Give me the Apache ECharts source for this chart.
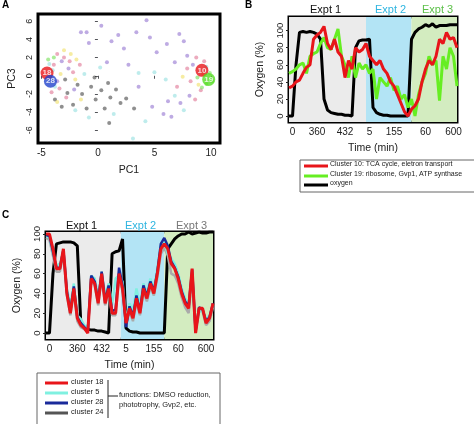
<!DOCTYPE html>
<html>
<head>
<meta charset="utf-8">
<script src="https://cdn.jsdelivr.net/npm/echarts@6/dist/echarts.min.js"></script>
<style>
  html, body { margin: 0; padding: 0; background: #fff; }
  #main { width: 474px; height: 424px; }
</style>
</head>
<body>
<div id="main"></div>
<script>
// ---- panel A: PCA scatter ----
var pcaPurple = [[-1.5,4.8],[-1,4.8],[0.3,5.5],[1.8,4.5],[3.4,4.8],[4.3,6.1],[4.6,4.2],[6.1,3.5],[7.2,4.6],[7.6,3.8],[2.3,3.0],[1.2,3.8],[-0.8,3.6],[5.2,2.6],[6.8,1.5],[7.9,2.2],[8.4,1.2],[6.2,-2.8],[5.8,-4.2],[6.5,-4.5],[7.3,-3.0],[8.1,-2.2],[4.8,-3.4],[3.6,-1.2],[-3.2,1.6],[-2.6,0.8],[-3.6,-0.6],[-2.1,-1.5],[0.8,1.5],[2.7,1.2]];
var pcaDark = [[-3.8,-2.6],[-3.2,-3.4],[-2.7,-1.9],[-2.2,-3.2],[-1.4,-2.0],[-1.0,-3.6],[-0.6,-1.2],[-0.2,-2.6],[0.3,-1.6],[0.6,-3.6],[1.1,-2.4],[1.6,-1.5],[2.0,-3.0],[2.5,-2.5],[1.0,-5.2],[3.2,-3.6],[-1.8,-1.0],[-2.9,-0.4],[0.9,-0.8],[-0.3,-0.2]];
var pcaPink = [[-3.6,2.4],[-3.0,2.0],[-2.5,1.6],[-3.9,1.2],[-2.2,0.4],[-3.4,-1.4],[-2.8,-2.4],[-1.6,1.2],[8.7,2.0],[9.4,1.6],[8.2,-0.6],[7.9,0.8],[9.1,-1.6],[8.6,-2.6],[7.0,-1.2],[-4.1,-1.8]];
var pcaCyan = [[-4.3,1.3],[-4.0,0.6],[-3.8,-1.2],[-0.8,-4.6],[1.4,-4.2],[3.1,-6.9],[3.6,0.3],[5.0,0.4],[6.0,-0.4],[6.8,-2.2],[4.2,-5.0],[7.6,-3.8],[-1.2,0.2],[0.2,0.9],[-2.0,-3.8],[9.6,1.0]];
var pcaYellow = [[-3.0,2.8],[-2.4,2.4],[-1.9,1.8],[-3.3,0.2],[-2.0,-0.4],[-1.5,-2.6],[8.9,-1.0],[9.3,0.2],[7.5,-0.1],[-3.6,-2.9]];
var pcaGreen = [[9.6,-0.9],[9.9,0.3],[9.2,-1.3],[8.8,-0.2],[10.1,-0.6],[-4.4,1.8],[-3.9,2.0]];
var pcaClusters = [[-4.5, 0.3, '18', '#e8151a'], [-4.2, -0.6, '28', '#2244cc'], [9.2, 0.6, '10', '#e8151a'], [9.8, -0.4, '19', '#55dd22']];
var pcaXTicks = [-5, 0, 5, 10];
var pcaYTicks = [-6, -4, -2, 0, 2, 4, 6];

// ---- time axes (sample index) ----
var tickIdxB = [1, 8, 16, 23, 30, 39, 47];
var tickIdxC = [1, 9, 16, 23, 31, 38, 46];
var tickText = ['0', '360', '432', '5', '155', '60', '600'];
var oxyTicks = [0, 20, 40, 60, 80, 100];
var exptB = [22, 35];   // boundaries Expt1|Expt2|Expt3
var exptC = [21.5, 34];

// ---- panel B: cluster 10 / 19 vs oxygen ----
var oxygenB = [0,0,60,98,99,98,99,98,96,90,20,7,4,3,2,2,1,1,0,80,88,89,89,90,10,4,2,1,1,0,0,0,0,0,0,90,98,102,104,107,105,108,104,106,106,106,107,107,107];
var cluster10 = [33,35,40,42,50,57,60,90,95,98,105,85,78,90,75,70,45,65,55,80,75,78,85,70,65,60,65,55,50,40,35,25,15,5,0,8,12,20,40,55,65,60,70,90,85,98,90,92,80];
var cluster19 = [50,52,55,60,62,50,70,73,75,85,92,80,78,90,102,70,60,45,70,45,62,55,60,50,55,20,45,40,35,45,30,35,20,25,10,20,0,25,40,50,70,60,65,18,70,55,80,70,35];

// ---- panel C: cluster 18/5/28/24 vs oxygen ----
var oxygenC = [0,0,60,90,91,92,92,92,91,88,10,5,4,3,3,2,2,1,0,80,82,83,95,5,2,1,1,0,0,0,0,0,0,0,0,85,90,95,98,100,100,102,100,101,102,101,101,102,102];
var cluster18 = [100,100,85,65,65,85,40,20,45,15,8,5,0,55,50,30,60,30,45,20,20,60,45,10,25,15,35,20,45,35,50,40,60,85,90,85,70,65,55,40,30,25,65,0,25,25,10,15,30];
var cluster5 = [98,97,80,68,70,82,45,28,50,18,14,8,5,58,55,38,62,38,50,28,55,58,52,12,30,22,45,28,50,40,55,45,65,88,92,80,75,70,60,45,35,30,60,5,22,22,14,18,28];
var cluster28 = [99,98,82,66,66,84,42,22,47,16,10,6,2,58,52,32,62,32,48,22,24,66,48,6,27,17,38,22,48,37,52,42,62,90,96,88,72,66,57,42,32,27,64,2,26,24,12,16,30];
var cluster24 = [96,94,78,62,62,80,38,18,42,12,6,4,2,52,48,28,56,28,42,18,18,55,42,8,22,12,32,18,42,32,46,38,56,80,86,78,60,58,50,36,26,20,58,2,22,22,8,12,26];

var FONT = 'Liberation Sans';
var LAST = oxygenB.length - 1;
var chart = echarts.init(document.getElementById('main'));

function indexed(arr) {
  return arr.map(function (v, i) { return [i, v]; });
}
function timeAxis(gi, ticks) {
  return {
    type: 'value', gridIndex: gi, min: 0, max: LAST,
    name: 'Time (min)', nameLocation: 'middle', nameGap: 21,
    nameTextStyle: { fontSize: 10.5, color: '#222', fontFamily: FONT },
    axisLine: { show: false },
    axisTick: { customValues: ticks, length: 3, lineStyle: { color: '#222' } },
    axisLabel: { customValues: ticks, fontSize: 10, color: '#222', margin: 5, fontFamily: FONT,
      formatter: function (v) { return tickText[ticks.indexOf(v)]; } },
    splitLine: { show: false }
  };
}
function oxyAxis(gi, mn, mx) {
  return {
    type: 'value', gridIndex: gi, min: mn, max: mx,
    name: 'Oxygen (%)', nameLocation: 'middle', nameGap: 23,
    nameTextStyle: { fontSize: 10.5, color: '#222', fontFamily: FONT },
    axisLine: { show: false },
    axisTick: { customValues: oxyTicks, length: 3, lineStyle: { color: '#222' } },
    axisLabel: { customValues: oxyTicks, rotate: 90, fontSize: 9.5, color: '#222', margin: 4, fontFamily: FONT },
    splitLine: { show: false }
  };
}
function shade(b) {
  return {
    silent: true,
    data: [
      [{ xAxis: 0, itemStyle: { color: '#ebebeb' } }, { xAxis: b[0] }],
      [{ xAxis: b[0], itemStyle: { color: '#b3e4f5' } }, { xAxis: b[1] }],
      [{ xAxis: b[1], itemStyle: { color: '#d3ecc0' } }, { xAxis: LAST }]
    ]
  };
}
function lineSeries(gi, data, color, w, extra) {
  var s = { type: 'line', xAxisIndex: gi, yAxisIndex: gi, data: indexed(data), symbol: 'none',
    lineStyle: { color: color, width: w }, z: 3 };
  if (extra) s.markArea = extra;
  return s;
}
function scat(data, color) {
  return { type: 'scatter', xAxisIndex: 0, yAxisIndex: 0, data: data, symbolSize: 4,
    itemStyle: { color: color, opacity: 0.55 }, silent: true };
}

chart.setOption({
  animation: false,
  textStyle: { fontFamily: FONT },
  grid: [
    { left: 38, top: 14, width: 182, height: 129, show: true, borderColor: '#000', borderWidth: 3 },
    { left: 289, top: 17, width: 168, height: 105, show: true, borderColor: '#000', borderWidth: 3 },
    { left: 46, top: 232, width: 167, height: 107, show: true, borderColor: '#000', borderWidth: 3 }
  ],
  xAxis: [
    { type: 'value', gridIndex: 0, min: -5.3, max: 10.8,
      name: 'PC1', nameLocation: 'middle', nameGap: 22,
      nameTextStyle: { fontSize: 10.5, color: '#222' },
      axisLine: { show: false },
      axisLabel: { fontSize: 10, color: '#222', margin: 5, customValues: pcaXTicks },
      axisTick: { customValues: pcaXTicks, length: 3 },
      splitLine: { show: false } },
    timeAxis(1, tickIdxB),
    timeAxis(2, tickIdxC)
  ],
  yAxis: [
    { type: 'value', gridIndex: 0, min: -7.4, max: 6.8,
      name: 'PC3', nameLocation: 'middle', nameGap: 20,
      nameTextStyle: { fontSize: 10.5, color: '#222' },
      axisLine: { show: false },
      axisTick: { customValues: pcaYTicks, length: 3 },
      axisLabel: { rotate: 90, fontSize: 9, color: '#222', margin: 4, customValues: pcaYTicks },
      splitLine: { show: false } },
    oxyAxis(1, -7, 116),
    oxyAxis(2, -6, 102)
  ],
  series: [
    scat(pcaPurple, '#8866cc'),
    scat(pcaDark, '#333333'),
    scat(pcaPink, '#dd6688'),
    scat(pcaCyan, '#88dddd'),
    scat(pcaYellow, '#eedd55'),
    scat(pcaGreen, '#66dd44'),
    { type: 'scatter', xAxisIndex: 0, yAxisIndex: 0, symbolSize: 13, z: 5,
      data: pcaClusters.map(function (d) { return { value: [d[0], d[1]], name: d[2], itemStyle: { color: d[3] } }; }),
      label: { show: true, formatter: '{b}', color: '#fff', fontSize: 8, fontWeight: 'bold' } },
    lineSeries(1, oxygenB, '#000', 3, shade(exptB)),
    lineSeries(1, cluster19, '#66ee22', 3),
    lineSeries(1, cluster10, '#e8151a', 3),
    lineSeries(2, oxygenC, '#000', 3, shade(exptC)),
    lineSeries(2, cluster24, '#aaaaaa', 2.5),
    lineSeries(2, cluster5, '#7ff0e0', 2.5),
    lineSeries(2, cluster28, '#1a2a9a', 2.5),
    lineSeries(2, cluster18, '#e8151a', 3)
  ],
  graphic: [
    { type: 'text', left: 2, top: 0, style: { text: 'A', font: 'bold 10px ' + FONT, fill: '#000' } },
    { type: 'text', left: 245, top: 0, style: { text: 'B', font: 'bold 10px ' + FONT, fill: '#000' } },
    { type: 'text', left: 2, top: 210, style: { text: 'C', font: 'bold 10px ' + FONT, fill: '#000' } },

    { type: 'text', left: 310, top: 4, style: { text: 'Expt 1', font: '11px ' + FONT, fill: '#111' } },
    { type: 'text', left: 375, top: 4, style: { text: 'Expt 2', font: '11px ' + FONT, fill: '#2fb5e0' } },
    { type: 'text', left: 422, top: 4, style: { text: 'Expt 3', font: '11px ' + FONT, fill: '#5dc04a' } },
    { type: 'text', left: 66, top: 220, style: { text: 'Expt 1', font: '11px ' + FONT, fill: '#111' } },
    { type: 'text', left: 125, top: 220, style: { text: 'Expt 2', font: '11px ' + FONT, fill: '#2fb5e0' } },
    { type: 'text', left: 176, top: 220, style: { text: 'Expt 3', font: '11px ' + FONT, fill: '#777' } },

    // legend B
    { type: 'rect', shape: { x: 300, y: 160, width: 176, height: 32 }, style: { fill: '#fff', stroke: '#666', lineWidth: 1 } },
    { type: 'line', shape: { x1: 304, y1: 166, x2: 328, y2: 166 }, style: { stroke: '#e8151a', lineWidth: 3 } },
    { type: 'line', shape: { x1: 304, y1: 176, x2: 328, y2: 176 }, style: { stroke: '#66ee22', lineWidth: 3 } },
    { type: 'line', shape: { x1: 304, y1: 185, x2: 328, y2: 185 }, style: { stroke: '#000', lineWidth: 3 } },
    { type: 'text', left: 330, top: 161, style: { text: 'Cluster 10: TCA cycle, eletron transport', font: '7px ' + FONT, fill: '#222' } },
    { type: 'text', left: 330, top: 171, style: { text: 'Cluster 19: ribosome, Gvp1, ATP synthase', font: '7px ' + FONT, fill: '#222' } },
    { type: 'text', left: 330, top: 180, style: { text: 'oxygen', font: '7px ' + FONT, fill: '#222' } },

    // legend C
    { type: 'rect', shape: { x: 37, y: 373, width: 183, height: 60 }, style: { fill: '#fff', stroke: '#666', lineWidth: 1 } },
    { type: 'line', shape: { x1: 45, y1: 383, x2: 68, y2: 383 }, style: { stroke: '#e8151a', lineWidth: 3 } },
    { type: 'line', shape: { x1: 45, y1: 393, x2: 68, y2: 393 }, style: { stroke: '#7ff0e0', lineWidth: 3 } },
    { type: 'line', shape: { x1: 45, y1: 403, x2: 68, y2: 403 }, style: { stroke: '#1a2a9a', lineWidth: 3 } },
    { type: 'line', shape: { x1: 45, y1: 413, x2: 68, y2: 413 }, style: { stroke: '#555', lineWidth: 3 } },
    { type: 'text', left: 71, top: 378, style: { text: 'cluster 18', font: '7.5px ' + FONT, fill: '#222' } },
    { type: 'text', left: 71, top: 388, style: { text: 'cluster 5', font: '7.5px ' + FONT, fill: '#222' } },
    { type: 'text', left: 71, top: 398, style: { text: 'cluster 28', font: '7.5px ' + FONT, fill: '#222' } },
    { type: 'text', left: 71, top: 408, style: { text: 'cluster 24', font: '7.5px ' + FONT, fill: '#222' } },
    { type: 'line', shape: { x1: 108, y1: 380, x2: 108, y2: 418 }, style: { stroke: '#222', lineWidth: 1 } },
    { type: 'line', shape: { x1: 108, y1: 396, x2: 118, y2: 396 }, style: { stroke: '#222', lineWidth: 1 } },
    { type: 'text', left: 119, top: 391, style: { text: 'functions: DMSO reduction,', font: '7.5px ' + FONT, fill: '#222' } },
    { type: 'text', left: 119, top: 401, style: { text: 'phototrophy, Gvp2, etc.', font: '7.5px ' + FONT, fill: '#222' } }
  ]
});
</script>
</body>
</html>
